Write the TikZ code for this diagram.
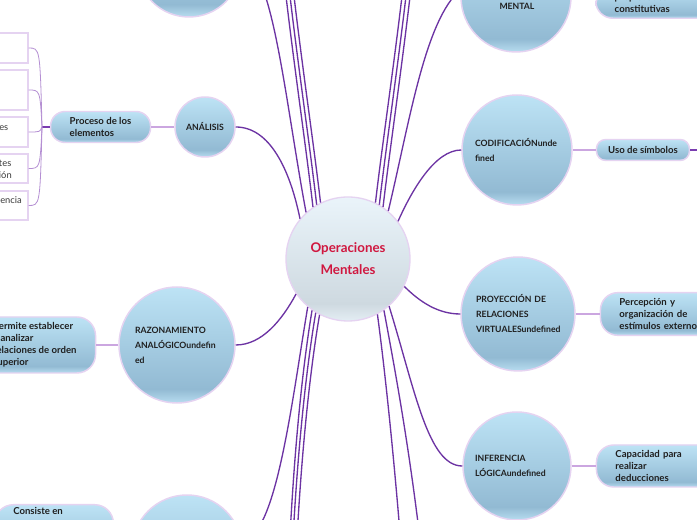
\documentclass[tikz,border=0pt]{standalone}
\usepackage{fontspec}
\setmainfont{Lato}
\usetikzlibrary{positioning}

\definecolor{bbHi}{HTML}{BDE3F5}
\definecolor{bbDk}{HTML}{92BAD3}
\definecolor{bbLo}{HTML}{B8DDF0}
\definecolor{ccHi}{HTML}{EAF4FA}
\definecolor{ccDk}{HTML}{CED9E0}
\definecolor{ccLo}{HTML}{E4EEF4}
\definecolor{rimLav}{HTML}{E5D3F1}
\definecolor{linkLav}{HTML}{CBA6E0}
\definecolor{branchPur}{HTML}{6C33A3}
\definecolor{twigPur}{HTML}{B58FD3}
\definecolor{hubPur}{HTML}{7A3DB0}
\definecolor{titleRed}{HTML}{D0173F}
\definecolor{inkDark}{HTML}{1F1F1F}
\definecolor{inkGray}{HTML}{3A3A3A}

\pgfdeclareverticalshading{bubble}{100bp}{color(0bp)=(bbLo); color(25bp)=(bbLo); color(31bp)=(bbDk); color(75bp)=(bbHi); color(100bp)=(bbHi)}
\pgfdeclareverticalshading{coreshade}{100bp}{color(0bp)=(ccLo); color(25bp)=(ccLo); color(32bp)=(ccDk); color(75bp)=(ccHi); color(100bp)=(ccHi)}

\begin{document}
\begin{tikzpicture}[x=0.75pt,y=0.75pt]
  \tikzstyle{bub}=[circle,draw=rimLav,line width=1.1pt,shading=bubble,inner sep=0pt,text=inkDark,align=left,font=\fontsize{6.5}{11.25}\selectfont\bfseries]
  \tikzstyle{bubtext}=[inner sep=0pt,text=inkDark,font=\fontsize{6.5}{11.25}\selectfont\bfseries]
  \tikzstyle{core}=[circle,draw=rimLav,line width=1pt,shading=coreshade,minimum size=93pt,inner sep=0pt,text=titleRed,align=center,font=\fontsize{10}{16.5}\selectfont\bfseries]
  \tikzstyle{pill}=[rectangle,rounded corners=11pt,draw=rimLav,line width=1.1pt,shading=bubble,inner xsep=14.25pt,inner ysep=4pt,text=inkDark,align=left,font=\fontsize{7.2}{9}\selectfont\bfseries]
  \tikzstyle{pilltext}=[inner sep=0pt,text=inkDark,align=left,font=\fontsize{7.2}{9}\selectfont\bfseries]
  \tikzstyle{leaf}=[rectangle,draw=rimLav,fill=white,line width=0.8pt,minimum width=66pt]
  \tikzstyle{leaftext}=[inner sep=0pt,text=inkGray,align=left,font=\fontsize{7}{9}\selectfont]
  \tikzstyle{branch}=[draw=branchPur,line width=1pt]
  \tikzstyle{link}=[draw=linkLav,line width=1.2pt]
  \tikzstyle{twig}=[draw=twigPur,line width=0.6pt]
  \tikzstyle{stem}=[draw=hubPur,line width=1.6pt]

  \useasboundingbox (0,0) rectangle (697,520);
  \clip (0,0) rectangle (697,520);
  \fill[white] (0,0) rectangle (697,520);

  % centre and main circles
  \node[core] (ctr) at (348,261) {Operaciones\\Mentales};
  \node[bub,minimum size=45pt,align=center] (ana) at (205,393) {ANÁLISIS};
  \node[bub,minimum size=78pt] (topl) at (189,555) {};
  \node[bub,minimum size=82.5pt] (mental) at (516,523) {};
  \node[bubtext] (mental-t) at (517,514) {MENTAL};
  \node[bub,minimum size=82.5pt,text width=63pt] (codif) at (517,370) {CODIFICACIÓNunde\\fined};
  \node[bub,minimum size=85.5pt,text width=63pt] (proy) at (518,206) {PROYECCIÓN DE\\RELACIONES\\VIRTUALESundefined};
  \node[bub,minimum size=81pt,text width=63pt] (infer) at (517,54) {INFERENCIA\\LÓGICAundefined};
  \node[bub,minimum size=87pt,text width=63pt] (razon) at (177,175) {RAZONAMIENTO\\ANALÓGICOundefin\\ed};
  \node[bub,minimum size=82.5pt] (botl) at (187,-30) {};

  % pills
  \node[pill,minimum width=75pt,minimum height=23.25pt,left=17.25pt of ana] (proc) {Proceso de los\\elementos};
  \node[pill,align=center,rounded corners=7pt,minimum width=69.75pt,minimum height=15.75pt,inner xsep=4pt,inner ysep=2pt,right=17.25pt of codif] (uso) {Uso de símbolos};
  \node[pill,text width=120pt,minimum height=32pt,rounded corners=13pt,right=18pt of proy] (perc) {Percepción y\\organización de\\estímulos externos};
  \node[pill,text width=120pt,minimum height=31.5pt,rounded corners=13pt,right=18pt of infer] (capac) {Capacidad para\\realizar\\deducciones};
  \node[pill,minimum height=42pt,rounded corners=14pt,left=16.5pt of razon] (perm) {Permite establecer\\y analizar\\relaciones de orden\\superior};
  \node[pill,text width=120pt,rounded corners=13pt,anchor=south west] (prop) at (595,501) {propiedades\\constitutivas};
  \node[pill,minimum width=89pt,minimum height=45pt,rounded corners=14pt,anchor=north west] (cons) at (-6,16) {};
  \node[pilltext,anchor=west] (cons-t) at (13,9) {Consiste en};

  % leaves of the left pill
  \foreach \n/\y/\h in {1/472/22.5,2/430/30,3/388/22.5,4/351.5/21.75,5/314.5/21.75}
    \node[leaf,minimum height=\h pt] (b\n) at (-16,\y) {};
  \node[leaftext,anchor=east] (b3-t) at (8.5,392) {es};
  \node[leaftext,anchor=east] (b4-t) at (12,351) {tes\\ión};
  \node[leaftext,anchor=east] (b5-t) at (22,320) {encia};

  \coordinate (hub) at (42,393);
  \coordinate (uso-out) at (720,370);
  \coordinate (ul1) at (276,640);
  \coordinate (ul2) at (280,640);
  \coordinate (ul3) at (284,640);
  \coordinate (ur1) at (412,640);
  \coordinate (ur2) at (416,640);
  \coordinate (ur3) at (420,640);
  \coordinate (dl1) at (286,-120);
  \coordinate (dl2) at (289,-120);
  \coordinate (dl3) at (293,-120);
  \coordinate (dr1) at (408,-120);
  \coordinate (dr2) at (430,-120);

  % circle to pill
  \draw[link] (ana) -- (proc);
  \draw[link] (codif) -- (uso);
  \draw[link] (proy) -- (perc);
  \draw[link] (infer) -- (capac);
  \draw[link] (razon) -- (perm);
  \draw[stem] (proc) -- (hub);
  \draw[stem] (uso) -- (uso-out);
  \foreach \n/\y in {1/472,2/430,3/388,4/351.5,5/314.5}
    \draw[twig] (hub) .. controls (40,\y) and (40,\y) .. (b\n.east);

  % branches from the centre
  \draw[branch] (ana.east) .. controls (270,393) and (290,350) .. (ctr.140);
  \draw[branch] (ctr.132) .. controls (285,420) and (272,560) .. (topl.east);
  \draw[branch] (ctr.124) .. controls (303,400) and (278,560) .. (ul1);
  \draw[branch] (ctr.120) .. controls (307,400) and (282,560) .. (ul2);
  \draw[branch] (ctr.116) .. controls (311,400) and (286,560) .. (ul3);
  \draw[branch] (ctr.64) .. controls (385,400) and (410,560) .. (ur1);
  \draw[branch] (ctr.60) .. controls (389,400) and (414,560) .. (ur2);
  \draw[branch] (ctr.56) .. controls (393,398) and (418,560) .. (ur3);
  \draw[branch] (ctr.50) .. controls (410,400) and (425,500) .. (mental.172);
  \draw[branch] (codif.west) .. controls (435,370) and (412,330) .. (ctr.37);
  \draw[branch] (ctr.334) .. controls (420,218) and (438,206) .. (proy.west);
  \draw[branch] (ctr.311) .. controls (415,130) and (428,54) .. (infer.west);
  \draw[branch] (ctr.305) .. controls (395,150) and (418,30) .. (dr2);
  \draw[branch] (ctr.298) .. controls (385,150) and (398,30) .. (dr1);
  \draw[branch] (ctr.243) .. controls (310,150) and (297,40) .. (dl3);
  \draw[branch] (ctr.239) .. controls (306,150) and (293,40) .. (dl2);
  \draw[branch] (ctr.235) .. controls (302,150) and (290,40) .. (dl1);
  \draw[branch] (ctr.230) .. controls (292,120) and (276,-20) .. (botl.10);
  \draw[branch] (razon.east) .. controls (262,175) and (282,200) .. (ctr.214);
\end{tikzpicture}
\end{document}
